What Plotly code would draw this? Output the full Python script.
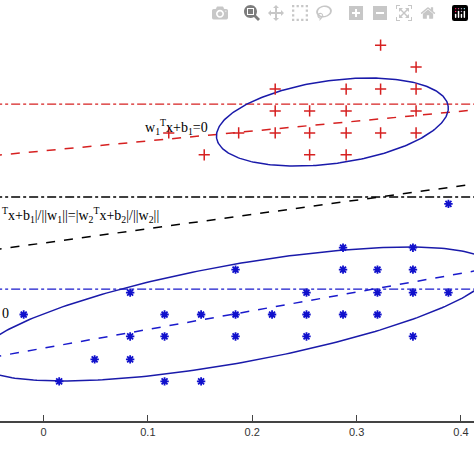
import numpy as np
import plotly.graph_objects as go

# class 1 (red +)
red_x = [0.323, 0.357,
         0.222, 0.290, 0.323, 0.357,
         0.222, 0.255, 0.290, 0.357,
         0.120, 0.187, 0.222, 0.255, 0.290, 0.323, 0.357,
         0.154, 0.255, 0.290]
red_y = [0.360, 0.339,
         0.318, 0.318, 0.318, 0.318,
         0.297, 0.297, 0.297, 0.297,
         0.276, 0.276, 0.276, 0.276, 0.276, 0.276, 0.276,
         0.255, 0.255, 0.255]
# class 2 (blue *)
blue_x = [0.388,
          0.287, 0.354,
          0.184, 0.287, 0.320, 0.354,
          0.083, 0.252, 0.320, 0.354, 0.388,
          -0.019, 0.116, 0.151, 0.184, 0.219, 0.252, 0.287, 0.320,
          0.083, 0.116, 0.184, 0.252, 0.354,
          0.049, 0.083,
          0.015, 0.116, 0.151]
blue_y = [0.208,
          0.166, 0.166,
          0.145, 0.145, 0.145, 0.145,
          0.123, 0.123, 0.123, 0.123, 0.123,
          0.102, 0.102, 0.102, 0.102, 0.102, 0.102, 0.102, 0.102,
          0.081, 0.081, 0.081, 0.081, 0.081,
          0.059, 0.059,
          0.038, 0.038, 0.038]

# lines: (slope, intercept)
red_dashed = (0.0949, 0.2588)
black_dashed = (0.137, 0.1705)
blue_dashed = (0.179, 0.0698)
red_dashdot_y = 0.3036
black_dashdot_y = 0.2146
blue_dashdot_y = 0.1264

# ellipses: cx, cy, a, b, angle(deg)
red_ell = (0.2768, 0.2864, 0.112, 0.0397, 7.85)
blue_ell = (0.1834, 0.1025, 0.251, 0.047, 10.2)

xr = [-0.0417, 0.4125]
yr = [0.0, 0.4033]

fig = go.Figure()

def ell(p):
    cx, cy, a, b, ang = p
    t = np.linspace(0, 2*np.pi, 300)
    th = np.radians(ang)
    x = cx + a*np.cos(t)*np.cos(th) - b*np.sin(t)*np.sin(th)
    y = cy + a*np.cos(t)*np.sin(th) + b*np.sin(t)*np.cos(th)
    return x, y

X = np.array([-0.1, 0.5])
for (m, c), col in [(red_dashed, '#d62020'), (black_dashed, 'black'), (blue_dashed, '#1a1acc')]:
    fig.add_trace(go.Scatter(x=X, y=m*X + c, mode='lines', line=dict(color=col, dash='dash', width=1.5)))
for yv, col in [(red_dashdot_y, '#d62020'), (black_dashdot_y, 'black'), (blue_dashdot_y, '#1a1acc')]:
    fig.add_trace(go.Scatter(x=X, y=[yv, yv], mode='lines', line=dict(color=col, dash='dashdot', width=1.3)))
for p in [red_ell, blue_ell]:
    ex, ey = ell(p)
    fig.add_trace(go.Scatter(x=ex, y=ey, mode='lines', line=dict(color='#1a1aaa', width=1.5)))

fig.add_trace(go.Scatter(x=red_x, y=red_y, mode='markers',
                         marker=dict(symbol='cross-thin-open', size=8, color='#d62020',
                                     line=dict(color='#d62020', width=1.5))))
fig.add_trace(go.Scatter(x=blue_x, y=blue_y, mode='markers',
                         marker=dict(symbol='asterisk-open', size=7, color='#1010cc',
                                     line=dict(color='#1010cc', width=1.8))))

ann_font = dict(family='Liberation Serif', size=14, color='black')
fig.add_annotation(x=0.095, y=0.282, xref='x', yref='y', text='w<sub>1</sub><sup>T</sup>x+b<sub>1</sub>=0',
                   showarrow=False, xanchor='left', yanchor='middle', font=ann_font)
fig.add_annotation(x=-0.0417, y=0.197, xref='x', yref='y',
                   text='<sup>T</sup>x+b<sub>1</sub>|/||w<sub>1</sub>||=|w<sub>2</sub><sup>T</sup>x+b<sub>2</sub>|/||w<sub>2</sub>||',
                   showarrow=False, xanchor='left', yanchor='middle', font=ann_font)
fig.add_annotation(x=-0.0417, y=0.103, xref='x', yref='y', text='0',
                   showarrow=False, xanchor='left', yanchor='middle', font=ann_font)

fig.update_layout(width=474, height=474, margin=dict(l=0, r=0, t=0, b=53),
                  plot_bgcolor='white', paper_bgcolor='white', showlegend=False)
fig.update_xaxes(range=xr, tickvals=[0, 0.1, 0.2, 0.3, 0.4], ticktext=['0', '0.1', '0.2', '0.3', '0.4'],
                 ticks='inside', ticklen=6, tickcolor='#444', showline=True, linecolor='#444', linewidth=1.5,
                 showgrid=False, zeroline=False, tickfont=dict(family='Liberation Sans', size=11, color='#333'))
fig.update_yaxes(range=yr, visible=False, showgrid=False, zeroline=False)
fig.write_html("out.html", post_script="document.body.style.margin='0';")
